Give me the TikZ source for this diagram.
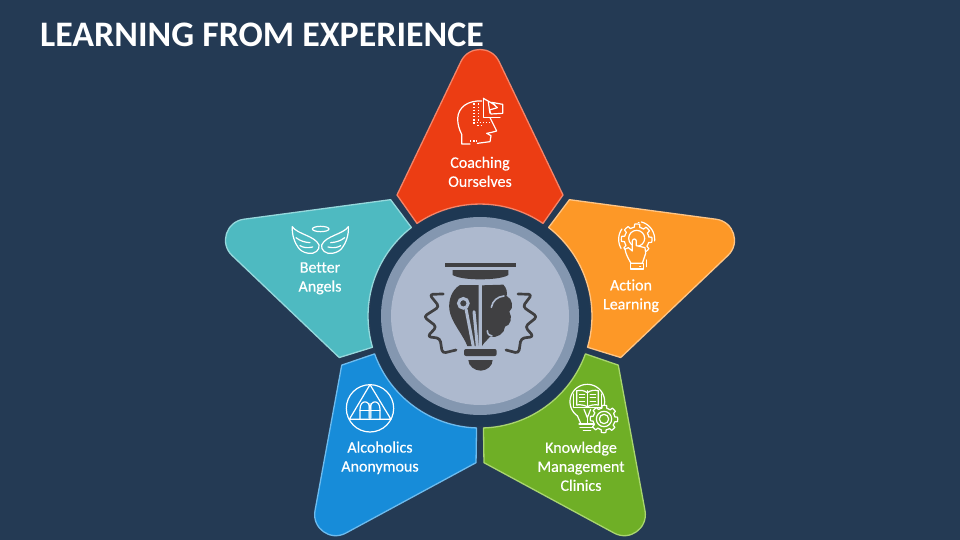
\documentclass[tikz,border=0pt]{standalone}
\usepackage{fontspec}
\setmainfont{Carlito}[Ligatures=NoCommon]
\definecolor{bgc}{HTML}{243A54}
\definecolor{gapc}{HTML}{1E3853}
\definecolor{ringc}{HTML}{8497B0}
\definecolor{innerc}{HTML}{ADB9CE}
\definecolor{glyphc}{HTML}{404042}
\definecolor{redf}{HTML}{EC3D13}\definecolor{redb}{HTML}{F58468}
\definecolor{oraf}{HTML}{FD9827}\definecolor{orab}{HTML}{FFC585}
\definecolor{grnf}{HTML}{6FAF26}\definecolor{grnb}{HTML}{A9D56F}
\definecolor{bluf}{HTML}{178CD9}\definecolor{blub}{HTML}{6DBBEE}
\definecolor{teaf}{HTML}{4EBAC1}\definecolor{teab}{HTML}{95D8DC}
\tikzset{
  petalshape/.style={line width=1.3pt,line join=round},
  lbl/.style={text=white,align=center,inner sep=0pt,font=\fontsize{16}{19}\selectfont\addfontfeature{FakeBold=0.4}},
  icon/.style={draw=white,line width=1.2pt,line join=round,line cap=round},
  dots/.style={draw=white,line width=1.2pt,dash pattern=on 1.3pt off 1.9pt},
  zoomed/.style={x=0.33333pt,y=-0.33333pt},
  glyph/.style={fill=glyphc},
  glyphline/.style={draw=glyphc,line width=2.7pt,line join=round,line cap=round,rounded corners=3.5pt},
  cutline/.style={draw=innerc,line cap=round}
}
\newcommand{\petal}[3]{%
  \begin{scope}[shift={(480,316)},rotate=#1]
    \path[petalshape,fill=#2,draw=#3]
      (-63,-92.6) -- (-83,-121) -- (-19,-254.6)
      .. controls (-11.3,-270.5) and (11.3,-270.5) .. (19,-254.6)
      -- (83,-121) -- (63,-92.6)
      .. controls (25,-118.4) and (-25,-118.4) .. cycle;
  \end{scope}}
\newcommand{\wing}{%
  \draw[icon] (217,95) .. controls (232,118) and (285,122) .. (297,150)
    .. controls (300,165) and (285,178) .. (265,175)
    .. controls (248,172) and (240,165) .. (235,158)
    .. controls (225,145) and (215,120) .. (217,95);
  \draw[icon] (228,128) .. controls (240,138) and (255,142) .. (270,143);
  \draw[icon] (240,152) .. controls (250,158) and (262,160) .. (278,156);}
\begin{document}
\begin{tikzpicture}[x=1pt,y=-1pt]
\useasboundingbox (0,0) rectangle (960,540);
\fill[bgc] (0,0) rectangle (960,540);
\node[anchor=base west,inner sep=0pt,text=white,font=\fontsize{35.9}{40}\selectfont\bfseries] (title) at (40,46.6) {LEARNING FROM EXPERIENCE};
% petals
\petal{0}{redf}{redb}
\petal{-72}{oraf}{orab}
\petal{-144}{grnf}{grnb}
\petal{-216}{bluf}{blub}
\petal{-288}{teaf}{teab}
% centre
\fill[gapc] (480,316) circle (110);
\fill[ringc] (480,316) circle (99);
\fill[innerc] (480,316) circle (89);
% centre glyph
\begin{scope}[shift={(380,210)},zoomed]
  \fill[glyph] (195,158) rectangle (408,172);
  \fill[glyph] (218,180) -- (385,180) -- (385,195) .. controls (370,205) and (330,208) .. (300,208) .. controls (270,208) and (235,205) .. (218,195) -- cycle;
  \fill[glyph] (296,225) -- (240,225) .. controls (215,240) and (205,270) .. (208,298) .. controls (212,335) and (250,375) .. (262,408) -- (296,408) -- cycle;
  \fill[glyph] (306,226) -- (370,224) .. controls (380,235) and (382,245) .. (380,258)
    .. controls (398,266) and (402,295) .. (388,305)
    .. controls (398,322) and (392,347) .. (375,350)
    .. controls (375,370) and (350,386) .. (330,380)
    .. controls (320,392) and (310,400) .. (306,408) -- cycle;
  \draw[cutline,line width=1.6pt] (372,258) .. controls (352,260) and (338,272) .. (334,292);
  \draw[cutline,line width=1.6pt] (322,362) .. controls (322,372) and (328,378) .. (336,378);
  \draw[cutline,line width=3pt] (250,280) circle (14.5);
  \draw[cutline,line width=3pt] (258,297) -- (280,410);
  \draw[cutline,line width=3pt] (282,305) -- (292,410);
  \fill[glyph,rounded corners=2pt] (252,417) rectangle (350,438);
  \fill[glyph] (265,450) -- (338,450) .. controls (338,468) and (320,482) .. (302,482) .. controls (284,482) and (265,468) .. (265,450) -- cycle;
  \draw[glyphline] (190,252) -- (148,253) -- (178,290) -- (131,320) -- (170,350) -- (142,380) -- (180,385) -- (187,430) -- (228,420);
  \draw[glyphline] (414,252) -- (456,253) -- (428,290) -- (472,320) -- (435,350) -- (461,380) -- (423,385) -- (416,430) -- (378,420);
\end{scope}
% red icon
\begin{scope}[shift={(390,45)},zoomed]
  \draw[icon] (275,168) .. controls (235,166) and (205,185) .. (203,220) .. controls (203,238) and (207,252) .. (215,268) -- (215,297) -- (240,297);
  \draw[icon] (262,295) -- (300,290) -- (303,272) -- (290,265) -- (305,262) -- (320,258) -- (300,218);
  \draw[icon] (280,160) -- (280,218) -- (330,218);
  \draw[icon] (280,160) -- (315,180);
  \draw[icon] (295,172) -- (300,205) ;
  \draw[icon] (305,172) -- (338,178) -- (338,205) -- (303,207) -- (298,195) -- (322,188) -- cycle;
  \draw[dots] (252,175) -- (252,240);
  \draw[dots] (265,175) -- (265,232);
  \draw[dots] (250,232) -- (300,232);
  \draw[dots] (262,242) -- (280,242);
  \draw[dots] (240,288) -- (262,288);
\end{scope}
% orange icon
\begin{scope}[shift={(545,195)},zoomed]
  \draw[icon] plot[domain=0:360,samples=97,variable=\t] ({275+(mod(\t+11,45)<22.5?46:37)*cos(\t)},{133+(mod(\t+11,45)<22.5?46:37)*sin(\t)});
  \draw[icon] (275,130) circle (24);
  \draw[icon,fill=oraf] (258,205) .. controls (250,190) and (243,180) .. (240,162) -- (250,158) -- (262,168) -- (262,138) .. controls (263,130) and (273,130) .. (274,138) -- (274,152) -- (300,158) -- (302,175) -- (292,205) -- cycle;
  \draw[icon,fill=oraf] (256,205) rectangle (295,222);
  \draw[icon] (284,214) -- (287,214);
  \draw[icon] plot[domain=-75:5,samples=20,variable=\t] ({275+54*cos(\t)},{133+54*sin(\t)});
  \draw[icon] plot[domain=150:215,samples=14,variable=\t] ({275+54*cos(\t)},{133+54*sin(\t)});
  \draw[icon] (305,195) -- (305,215);
  \draw[icon] (280,82) -- (282,82);
\end{scope}
% green icon
\begin{scope}[shift={(480,350)},zoomed]
  \draw[icon] plot[domain=125:400,samples=50,variable=\t] ({322+52*cos(\t)},{155+52*sin(\t)});
  \draw[icon] (292,197) -- (303,222);
  \draw[icon] (322,122) -- (322,170);
  \draw[icon] (322,128) .. controls (310,120) and (300,120) .. (290,122) -- (290,165) .. controls (300,163) and (312,165) .. (322,170) .. controls (332,165) and (345,163) .. (355,165) -- (355,122) .. controls (345,120) and (332,120) .. (322,128);
  \draw[icon] (280,132) -- (280,172) -- (365,172) -- (365,132);
  \foreach \yy in {133,143,153}{
    \draw[icon,line width=0.9pt] (298,\yy) -- (314,\yy);
    \draw[icon,line width=0.9pt] (330,\yy) -- (347,\yy);}
  \draw[icon] (312,178) -- (322,203) -- (332,178);
  \draw[icon] (322,203) -- (322,218);
  \draw[icon] (297,222) -- (345,222);
  \draw[icon] (300,232) -- (342,232);
  \draw[icon] (310,242) -- (332,242);
  \draw[icon,fill=grnf] plot[domain=0:360,samples=97,variable=\t] ({372+(mod(\t+11,45)<22.5?41:33)*cos(\t)},{207+(mod(\t+11,45)<22.5?41:33)*sin(\t)}) -- cycle;
  \draw[icon] (372,207) circle (23);
  \draw[icon] (372,207) circle (14);
\end{scope}
% blue icon
\begin{scope}[shift={(310,350)},zoomed]
  \draw[icon] (180,175) circle (71);
  \draw[icon] (180,104) -- (118,208) -- (243,208) -- cycle;
  \fill[bluf!55!white] (173,160) rectangle (186,208);
  \draw[icon] (150,208) -- (150,178) .. controls (150,148) and (180,148) .. (180,178) -- (180,208);
  \draw[icon] (180,178) .. controls (180,148) and (210,148) .. (210,178) -- (210,208);
  \draw[icon] (150,182) -- (210,182);
\end{scope}
% teal icon
\begin{scope}[shift={(220,195)},zoomed]
  \draw[icon] (302,102) ellipse (25 and 8);
  \wing
  \begin{scope}[shift={(602,0)},xscale=-1]
    \wing
  \end{scope}
\end{scope}
% labels
\node[lbl] (coaching) at (480,171.8) {Coaching\\Ourselves};
\node[lbl] (action) at (631,295.8) {Action\\Learning};
\node[lbl] (knowledge) at (581,466.3) {Knowledge\\Management\\Clinics};
\node[lbl] (alcoholics) at (380,457.8) {Alcoholics\\Anonymous};
\node[lbl] (better) at (320,278.3) {Better\\Angels};
\end{tikzpicture}
\end{document}
